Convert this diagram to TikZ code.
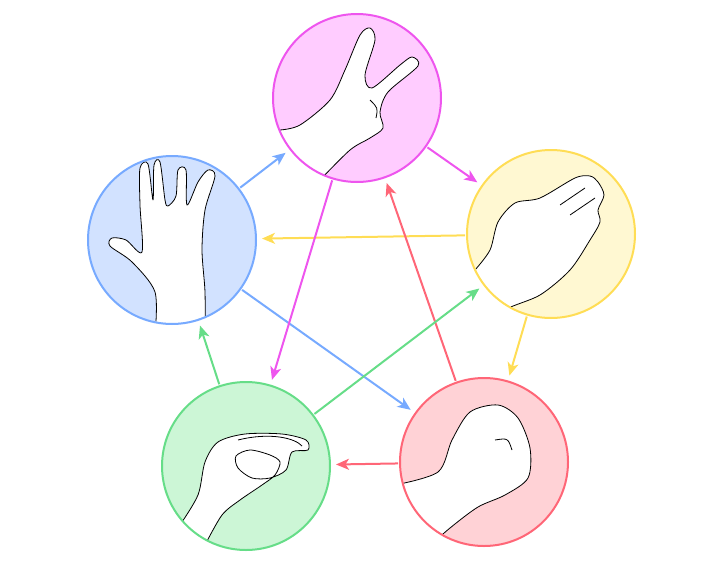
\documentclass[tikz,border=0pt]{standalone}
\usetikzlibrary{arrows.meta}
\definecolor{mS}{HTML}{EE55EE}\definecolor{mF}{HTML}{FFCCFF}
\definecolor{yS}{HTML}{FFDD55}\definecolor{yF}{HTML}{FFF8D2}
\definecolor{bS}{HTML}{77AAFF}\definecolor{bF}{HTML}{D2E2FF}
\definecolor{rS}{HTML}{FF6677}\definecolor{rF}{HTML}{FFD2D6}
\definecolor{gS}{HTML}{66DD88}\definecolor{gF}{HTML}{CCF6D6}
\tikzset{disc/.style={circle,minimum size=168pt,inner sep=0pt,line width=2pt},
 hand/.style={fill=white,draw=black,line width=0.8pt,line join=round},
 link/.style={line width=2pt,-{Stealth[length=13pt,width=11pt,inset=3.5pt]},shorten >=5pt,shorten <=1pt}}
\begin{document}
\begin{tikzpicture}[x=1pt,y=-1pt]
\useasboundingbox (0,0) rectangle (728,573);
\node[disc,fill=mF] (m) at (357,98) {};
\node[disc,fill=yF] (y) at (551,234) {};
\node[disc,fill=bF] (b) at (172,240) {};
\node[disc,fill=rF] (r) at (484,462) {};
\node[disc,fill=gF] (g) at (246,466) {};
% hands
\begin{scope}\clip (357,98) circle (84);
\draw[hand] plot[smooth] coordinates {(280,130)(300,125)(330,100)(345,70)(360,35)(370,28)(375,40)(365,75)(372,88)(400,65)(412,57)(418,66)(388,92)(380,112)(383,128)(370,138)(350,150)(320,180)} -- (260,180) -- cycle;
\draw[hand] (370,100) .. controls (378,108) .. (376,118);
\end{scope}
\begin{scope}\clip (551,234) circle (83);
\draw[hand] plot[smooth] coordinates {(475,270)(490,250)(498,222)(515,203)(540,198)(575,178)(590,176)(598,182)(604,195)(598,210)(600,222)(590,240)(570,270)(540,295)(505,310)(490,330)} -- (450,330) -- cycle;
\draw[hand] (560,205) -- (585,188) (570,215) -- (595,198);
\end{scope}
\begin{scope}\clip (172,240) circle (83);
\draw[hand] plot[smooth] coordinates {(155,335)(155,292)(132,262)(110,246)(112,238)(126,240)(142,252)(140,205)(140,168)(148,164)(153,200)(154,165)(160,162)(165,200)(168,206)(176,196)(178,170)(186,170)(187,205)(198,182)(208,170)(215,176)(205,210)(202,250)(205,292)(205,335)};
\end{scope}
\begin{scope}\clip (484,462) circle (84);
\draw[hand] plot[smooth] coordinates {(395,485)(438,472)(452,440)(470,412)(498,405)(518,418)(530,448)(528,478)(505,495)(478,507)(450,528)(425,550)} -- (380,550) -- cycle;
\draw[hand] (495,440) .. controls (508,438) .. (512,450);
\end{scope}
\begin{scope}\clip (246,466) circle (84);
\draw[hand] plot[smooth] coordinates {(180,525)(198,495)(205,462)(218,442)(245,434)(282,434)(306,440)(308,450)(292,452)(286,470)(270,478)(252,478)(238,468)(236,456)(250,450)(270,455)(280,462)(275,475)(262,485)(240,500)(222,515)(205,545)} -- (160,545) -- cycle;
\draw[hand] (238,440) .. controls (270,432) and (295,438) .. (302,446);
\end{scope}
\foreach \n/\c in {m/mS,y/yS,b/bS,r/rS,g/gS}{\node[disc,draw=\c] at (\n) {};}
% arrows
\draw[link,bS] (b) -- (m);
\draw[link,mS] (m) -- (y);
\draw[link,yS] (y) -- (b);
\draw[link,yS] (y) -- (r);
\draw[link,bS] (b) -- (r);
\draw[link,mS] (m) -- (g);
\draw[link,rS] (r) -- (m);
\draw[link,gS] (g) -- (y);
\draw[link,rS] (r) -- (g);
\draw[link,gS] (g) -- (b);
\end{tikzpicture}
\end{document}
